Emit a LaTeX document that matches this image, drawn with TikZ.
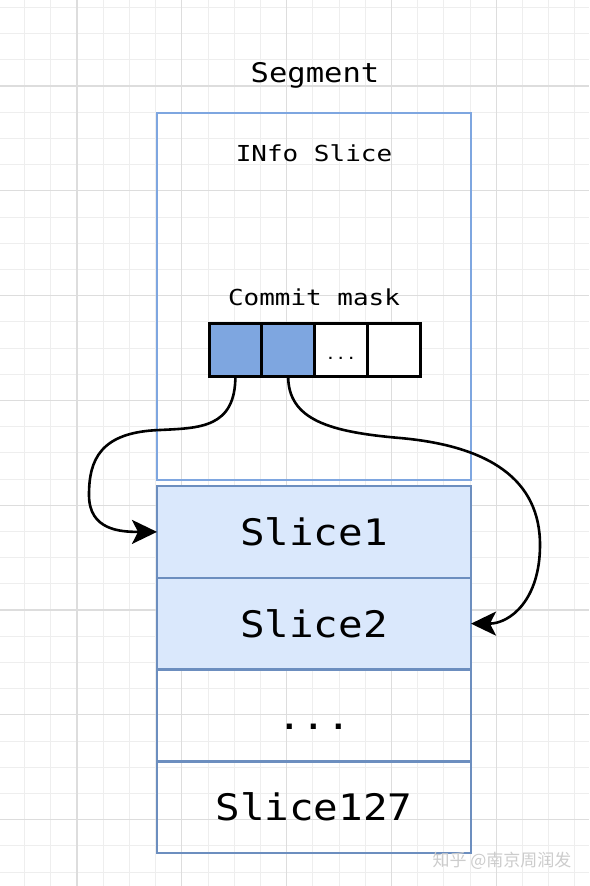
\documentclass[tikz,border=0pt]{standalone}
\usepackage{fontspec}
\usepackage{graphicx}
\usepackage{tikz}
\usetikzlibrary{positioning}
\usetikzlibrary{arrows.meta}
\setmonofont{DejaVu Sans Mono}
\newfontfamily\cjkfont{Noto Sans CJK SC}
\definecolor{gridminor}{HTML}{EEEEEE}
\definecolor{gridmajor}{HTML}{DDDDDD}
\definecolor{infoblue}{HTML}{7EA6E0}
\definecolor{sliceblue}{HTML}{6C8EBF}
\definecolor{slicefill}{HTML}{DAE8FC}
\definecolor{maskfill}{HTML}{7EA6E0}
\newcommand{\widen}[2]{\scalebox{#1}[1]{#2}}
\tikzset{
  slicerow/.style={draw=sliceblue, line width=2.5pt, minimum width=314pt, minimum height=91.75pt, inner sep=0pt, outer sep=0pt, font=\ttfamily\fontsize{36.5}{40}\selectfont},
  maskcell/.style={draw=black, line width=3pt, minimum width=52.75pt, minimum height=53pt, inner sep=0pt, outer sep=0pt},
  pointer/.style={line width=2.6pt, -{Stealth[length=25pt,width=24pt,inset=6pt]}},
  smalltext/.style={anchor=base, font=\ttfamily\fontsize{22}{26}\selectfont}
}

\begin{document}
\begin{tikzpicture}[x=1pt,y=-1pt]
  \useasboundingbox (0,0) rectangle (589,886);
  \fill[white] (0,0) rectangle (589,886);

  \foreach \i in {0,...,22}
    \draw[gridminor, line width=1pt] ({24.6+26.2*\i},0) -- ({24.6+26.2*\i},886);
  \foreach \j in {0,...,33}
    \draw[gridminor, line width=1pt] (0,{7.4+26.2*\j}) -- (589,{7.4+26.2*\j});
  \foreach \k in {1,...,5}
    \draw[gridmajor, line width=1.2pt] ({-27.8+104.8*\k},0) -- ({-27.8+104.8*\k},886);
  \foreach \k in {0,...,7}
    \draw[gridmajor, line width=1.2pt] (0,{86+104.8*\k}) -- (589,{86+104.8*\k});

  \node[draw=infoblue, line width=2.5pt, minimum width=314pt, minimum height=367pt, outer sep=0pt] (infobox) at (314,296.5) {};

  \node[slicerow, fill=slicefill] (s1) at (314,531.9) {\widen{1.12}{Slice1}};
  \node[slicerow, fill=slicefill, below=0pt of s1] (s2) {\widen{1.12}{Slice2}};
  \node[slicerow, below=0pt of s2] (s3) {\vphantom{l}\widen{1.12}{...}};
  \node[slicerow, below=0pt of s3] (s4) {\widen{1.12}{Slice127}};

  \node[maskcell, fill=maskfill] (m1) at (235.4,349.5) {};
  \node[maskcell, fill=maskfill, right=0pt of m1] (m2) {};
  \node[maskcell, fill=white, right=0pt of m2] (m3) {};
  \node[maskcell, fill=white, right=0pt of m3] (m4) {};
  \node[anchor=base, font=\ttfamily\fontsize{15}{18}\selectfont] (maskdots) at ([yshift=-10pt]m3.center) {\widen{1.15}{...}};

  \node[anchor=base, font=\ttfamily\fontsize{27}{32}\selectfont] (seglabel) at (315,82) {\widen{1.13}{Segment}};
  \node[smalltext] (infolabel) at (314,161) {\widen{1.18}{INfo Slice}};
  \node[smalltext] (masklabel) at (314,305) {\widen{1.18}{Commit mask}};

  \coordinate (lefta) at (160,430);
  \coordinate (leftb) at (89,495);
  \draw[pointer] (m1.south) .. controls (235.4,428) and (200,428) .. (lefta)
    .. controls (100,432) and (89,460) .. (leftb)
    .. controls (89,530) and (120,531.9) .. (s1.west);

  \coordinate (righta) at (400,438);
  \coordinate (rightb) at (540,545);
  \draw[pointer] (m2.south) .. controls (288.1,420) and (330,432) .. (righta)
    .. controls (490,446) and (540,480) .. (rightb)
    .. controls (540,600) and (510,623.6) .. (s2.east);

  \node[anchor=base, text=gray!40, font=\cjkfont\fontsize{17}{20}\selectfont] (watermark) at (502,866) {知乎 @南京周润发};
\end{tikzpicture}
\end{document}
